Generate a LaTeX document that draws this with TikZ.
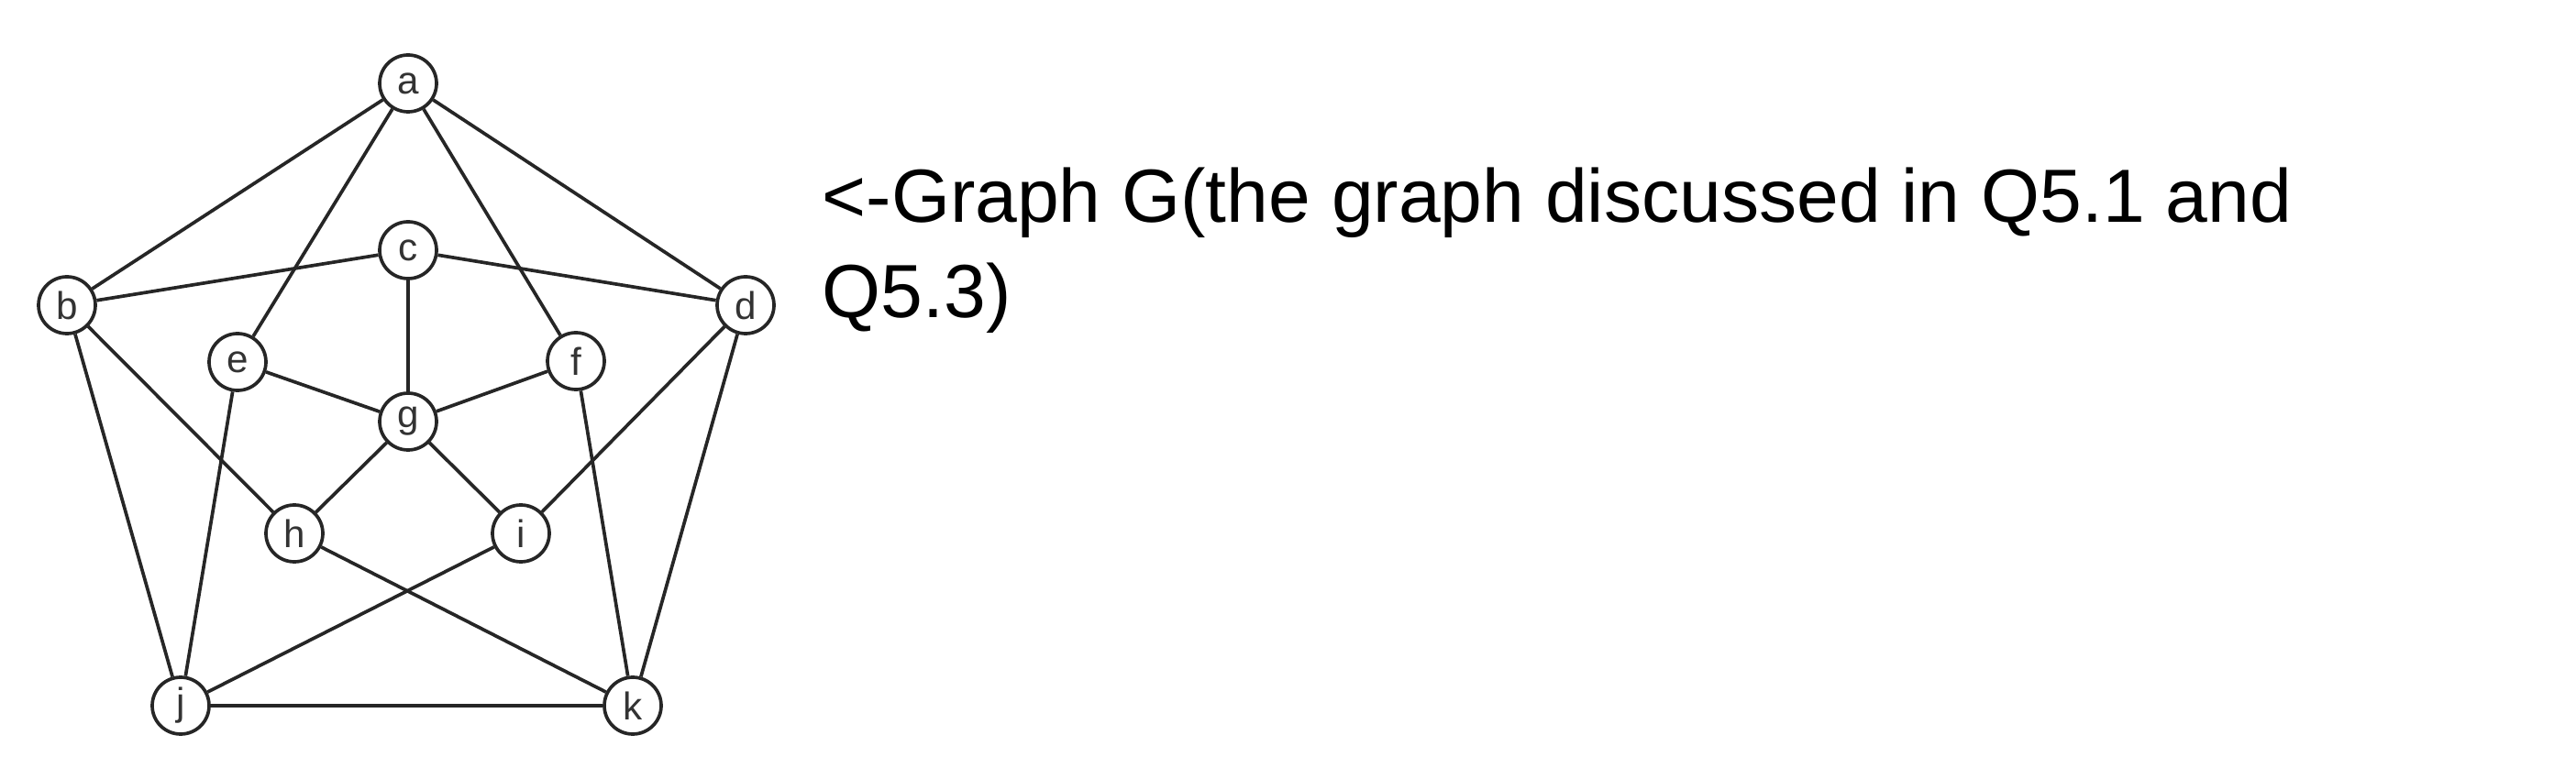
\documentclass[tikz,border=0pt]{standalone}
\usepackage{fontspec}
\setmainfont{Liberation Sans}
\begin{document}
\begin{tikzpicture}[x=1cm,y=1cm,
  vtx/.style={circle,draw=black!85,line width=1.05pt,minimum size=0.62cm,inner sep=0pt,fill=white,
    font=\fontsize{12}{12}\selectfont,text=black!80},
  lnk/.style={draw=black!85,line width=1.05pt},
  captxt/.style={anchor=base west,inner sep=0pt,font=\fontsize{23.4}{28}\selectfont,text=black}]
\useasboundingbox (0,0) rectangle (28.09,-8.38);
\node[vtx] (a) at (4.45,-0.91) {a};
\node[vtx] (b) at (0.73,-3.33) {b};
\node[vtx] (c) at (4.45,-2.73) {c};
\node[vtx] (d) at (8.13,-3.33) {d};
\node[vtx] (e) at (2.59,-3.95) {e};
\node[vtx] (f) at (6.28,-3.94) {f};
\node[vtx] (g) at (4.45,-4.60) {g};
\node[vtx] (h) at (3.21,-5.82) {h};
\node[vtx] (i) at (5.68,-5.82) {i};
\node[vtx] (j) at (1.97,-7.70) {j};
\node[vtx] (k) at (6.90,-7.70) {k};
\foreach \u/\v in {a/b,a/d,a/e,a/f,b/c,c/d,c/g,b/h,b/j,d/i,d/k,e/g,f/g,g/h,g/i,e/j,f/k,h/k,i/j,j/k}
  \draw[lnk] (\u) -- (\v);
\node[captxt] (cap1) at (8.96,-2.43) {<-Graph G(the graph discussed in Q5.1 and};
\node[captxt] (cap2) at (8.96,-3.47) {Q5.3)};
\end{tikzpicture}
\end{document}
